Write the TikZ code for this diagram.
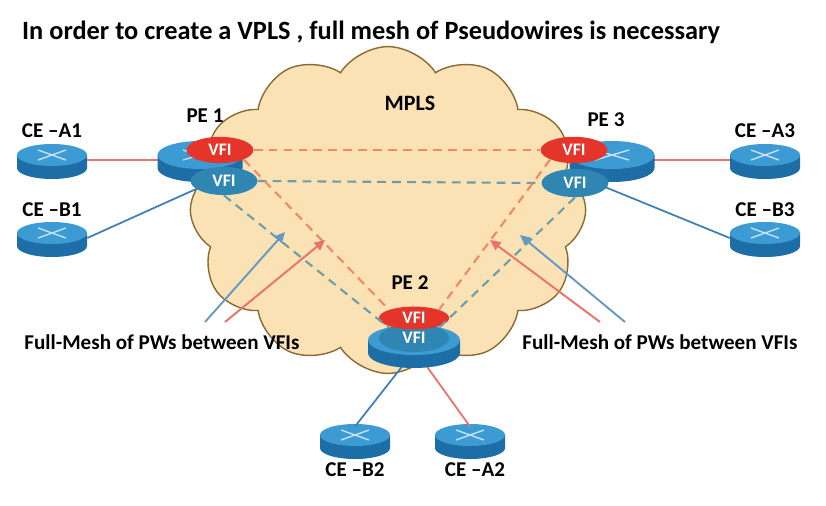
\documentclass[tikz,border=0pt]{standalone}
\usepackage{fontspec}
\setmainfont{Carlito}
\usetikzlibrary{shapes.symbols,shapes.geometric,arrows.meta}
\definecolor{cloudf}{HTML}{FBE2B4}
\definecolor{cloudd}{HTML}{8A6A30}
\definecolor{rtop}{HTML}{3C9BD2}
\definecolor{rside}{HTML}{1D6DA6}
\definecolor{vred}{HTML}{E5352B}
\definecolor{vblue}{HTML}{2F86B2}
\definecolor{lred}{HTML}{E8736A}
\definecolor{lblue}{HTML}{3F7FB5}
\definecolor{dred}{HTML}{EC8A6A}
\definecolor{dblue}{HTML}{6A9EA8}
\tikzset{
  lbl/.style={font=\bfseries\fontsize{12}{14}\selectfont},
  rnode/.style={ellipse,minimum width=#1*0.567pt,minimum height=15pt,inner sep=0},
  vfired/.style={ellipse,fill=vred,text=white,font=\bfseries\fontsize{10}{11}\selectfont,minimum width=38pt,minimum height=15pt,inner sep=0},
  vfiblue/.style={ellipse,fill=vblue,text=white,font=\bfseries\fontsize{10}{11}\selectfont,minimum width=38pt,minimum height=16pt,inner sep=0},
  redl/.style={lred,line width=1},
  bluel/.style={lblue,line width=1},
  dr/.style={dred,dash pattern=on 5pt off 3.5pt,line width=1.2},
  db/.style={dblue,dash pattern=on 5pt off 3.5pt,line width=1.2},
  arrb/.style={-{Triangle[length=6,width=5.5]},line width=1.1,color=lblue!80},
  arrr/.style={-{Triangle[length=6,width=5.5]},line width=1.1,color=lred},
}
\newcommand{\rbody}[4]{% x y width yradius
  \fill[rside] (#1-#3/2,#2) -- (#1-#3/2,#2+13) arc[start angle=180,end angle=360,x radius=#3/2,y radius=-#4] -- (#1+#3/2,#2) -- cycle;
  \fill[rtop] (#1,#2) ellipse[x radius=#3/2,y radius=#4];
  \draw[white!70!rtop,line width=0.8] (#1-#3/5,#2-5) -- (#1+#3/5,#2+5) (#1-#3/5,#2+5) -- (#1+#3/5,#2-5);
}
\begin{document}
\begin{tikzpicture}[x=0.02cm,y=-0.02cm]
\useasboundingbox (0,0) rectangle (826,505);
\node[cloud,cloud puffs=12,cloud puff arc=115,aspect=1.25,fill=cloudf,draw=cloudd,line width=0.8,minimum width=225pt,minimum height=186pt] (cloud) at (388,210) {};
\node[font=\bfseries\fontsize{15}{18}\selectfont,anchor=west] (title) at (16,32) {In order to create a VPLS , full mesh of Pseudowires is necessary};
\node[font=\bfseries\fontsize{12.5}{14}\selectfont] (mpls) at (410,103) {MPLS};
% routers
\rbody{52}{155}{70}{11}\node[rnode=70] (ceA1) at (52,160) {};
\rbody{52}{233}{70}{11}\node[rnode=70] (ceB1) at (52,238) {};
\rbody{765}{155}{70}{11}\node[rnode=70] (ceA3) at (765,160) {};
\rbody{765}{233}{70}{11}\node[rnode=70] (ceB3) at (765,238) {};
\rbody{355}{435}{70}{11}\node[rnode=70] (ceB2) at (355,440) {};
\rbody{470}{435}{70}{11}\node[rnode=70] (ceA2) at (470,440) {};
% solid links
\draw[redl] (ceA1) -- (190,160);
\draw[bluel] (ceB1.east) -- (205,185);
\draw[redl] (ceA3) -- (620,160);
\draw[bluel] (ceB3.west) -- (600,185);
\draw[bluel] (ceB2.north) -- (415,350);
\draw[redl] (ceA2.north) -- (415,350);
% PE routers
\rbody{200}{155}{85}{14}\node[rnode=85] (pe1) at (200,160) {};
\rbody{612}{155}{85}{14}\node[rnode=85] (pe3) at (612,160) {};
\rbody{414}{340}{92}{15}\node[rnode=92] (pe2) at (414,346) {};
% VFIs
\node[vfiblue] (b1) at (224,181) {VFI};
\node[vfired] (r1) at (220,150) {VFI};
\node[vfiblue] (b3) at (575,183) {VFI};
\node[vfired] (r3) at (574,150) {VFI};
\node[vfiblue,minimum width=40pt] (b2) at (414,338) {VFI};
\node[vfired,minimum width=40pt,minimum height=13pt] (r2) at (414,318) {VFI};
% dashed mesh
\draw[dr] (r1.east) -- (r3.west);
\draw[db] (b1.east) -- (b3.west);
\draw[dr] (r1.south east) -- (r2.north west);
\draw[dr] (r3.south west) -- (r2.north east);
\draw[db] (b1.south) -- (b2.north west);
\draw[db] (b3.south) -- (b2.north east);
% labels
\node[lbl] (lpe1) at (205,116) {PE 1};
\node[lbl] (lpe3) at (606,120) {PE 3};
\node[lbl] (lpe2) at (410,283) {PE 2};
\node[lbl] (lA1) at (52,131) {CE –A1};
\node[lbl] (lB1) at (52,210) {CE –B1};
\node[lbl] (lA3) at (765,131) {CE –A3};
\node[lbl] (lB3) at (765,210) {CE –B3};
\node[lbl] (lB2) at (355,470) {CE –B2};
\node[lbl] (lA2) at (475,470) {CE –A2};
\node[lbl] (fm1) at (162,342) {Full-Mesh of PWs between VFIs};
\node[lbl] (fm2) at (660,342) {Full-Mesh of PWs between VFIs};
\coordinate (a1) at (285,232); \coordinate (a2) at (325,240);
\coordinate (a3) at (520,235); \coordinate (a4) at (490,240);
\draw[arrb] (205,322) -- (a1);
\draw[arrr] (225,322) -- (a2);
\draw[arrb] (625,322) -- (a3);
\draw[arrr] (600,322) -- (a4);
\end{tikzpicture}
\end{document}
